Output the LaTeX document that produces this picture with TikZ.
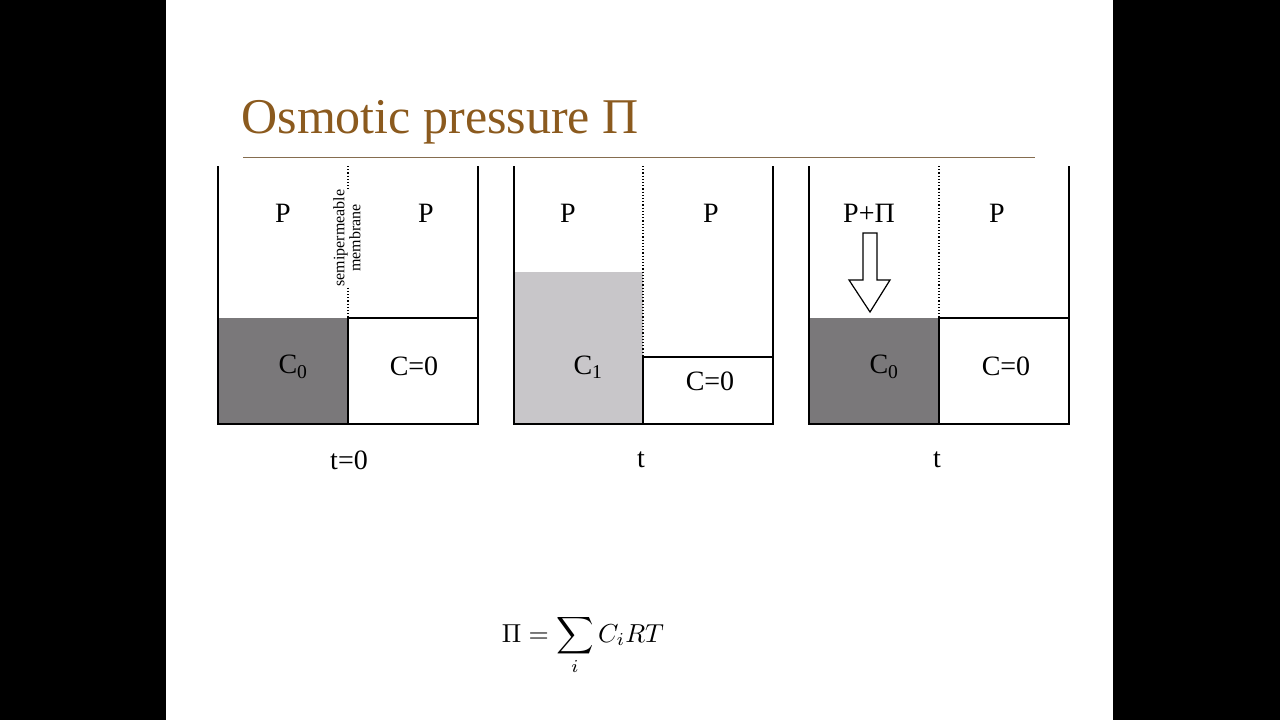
\documentclass[tikz,border=0pt]{standalone}
\usepackage{fontspec}
\setmainfont{Liberation Serif}
\usepackage{tikz}
\usetikzlibrary{calc, positioning}
\definecolor{titlebrown}{HTML}{8B5A1E}
\definecolor{darkfluid}{HTML}{7A787A}
\definecolor{lightfluid}{HTML}{C8C6C9}
\tikzset{
  wall/.style={line width=1.3pt},
  membrane/.style={dotted, line width=1.2pt},
  lbl/.style={font=\fontsize{28}{30}\selectfont},
}
\begin{document}
\begin{tikzpicture}[x=1pt, y=-1pt]
        \useasboundingbox (0,0) rectangle (1280,720);
        \fill[black] (0,0) rectangle (166,720);
        \fill[black] (1113,0) rectangle (1280,720);
        % Title
        \node (title) [anchor=west, text=titlebrown, font=\fontsize{50}{56}\selectfont] at (238,122) {Osmotic pressure Π};
        \draw[line width=1pt, color=titlebrown!50!gray] (243,157) -- (1035,157);

        % Container 1
        \fill[darkfluid] (218,318) rectangle (348,424);
        \draw[wall] (348,318) rectangle (478,424);
        \draw[wall] (218,166) |- (478,424) -- (478,166);
        \draw[membrane] (348,166) -- (348,424);
        \node (pa) [lbl] at (283,213) {P};
        \node (pb) [lbl] at (426,213) {P};
        \node (memb) [rotate=90, align=center, fill=white, inner sep=1pt, font=\fontsize{16}{16}\selectfont] at (347,238) {semipermeable\\membrane};
        \node (ca) [lbl] at (293,367) {C\textsubscript{0}};
        \node (cb) [lbl] at (414,366) {C=0};
        \node (ta) [lbl] at (349,460) {t=0};

        % Container 2
        \fill[lightfluid] (514,272) rectangle (643,424);
        \draw[wall] (643,357) rectangle (773,424);
        \draw[wall] (514,166) |- (773,424) -- (773,166);
        \draw[membrane] (643,166) -- (643,424);
        \node (pc) [lbl] at (568,213) {P};
        \node (pd) [lbl] at (711,213) {P};
        \node (cc) [lbl] at (588,367) {C\textsubscript{1}};
        \node (cd) [lbl] at (710,381) {C=0};
        \node (tb) [lbl] at (641,460) {t};

        % Container 3
        \fill[darkfluid] (809,318) rectangle (939,424);
        \draw[wall] (939,318) rectangle (1069,424);
        \draw[wall] (809,166) |- (1069,424) -- (1069,166);
        \draw[membrane] (939,166) -- (939,424);
        \node (pe) [lbl] at (869,213) {P+Π};
        \node (pf) [lbl] at (997,213) {P};
        \coordinate (tip) at (870,312);
        \draw[line width=1.2pt, fill=white, line join=miter] (863,233) -- (877,233) -- (877,280) -- (890,280) -- (tip) -- (849,280) -- (863,280) -- cycle;
        \node (ce) [lbl] at (884,367) {C\textsubscript{0}};
        \node (cf) [lbl] at (1006,366) {C=0};
        \node (tc) [lbl] at (937,460) {t};

        % Formula
        \node (formula) [scale=2.6] at (583,645) {\(\Pi = \displaystyle\sum_i C_i RT\)};
\end{tikzpicture}
\end{document}
